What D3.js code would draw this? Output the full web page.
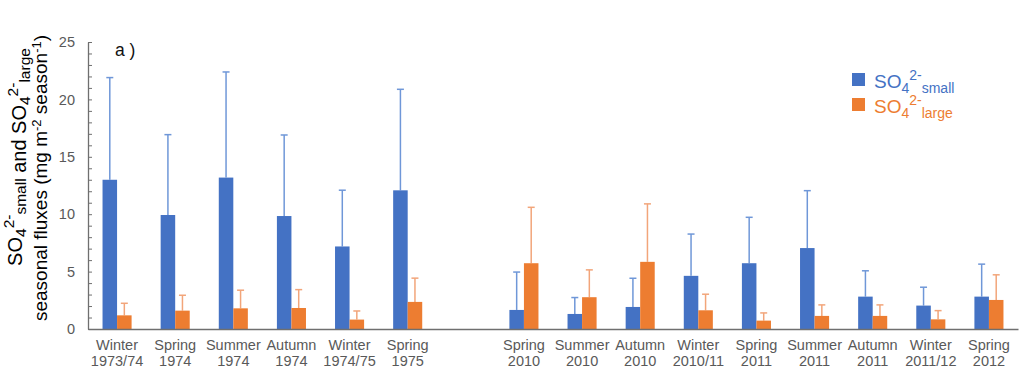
<!DOCTYPE html>
<html><head><meta charset="utf-8">
<script src="https://cdn.jsdelivr.net/npm/d3@7"></script>
<style>body{margin:0;background:#fff}svg{display:block}</style>
</head><body><svg id="c" width="1024" height="374"></svg>
<script>
// categories (two-line labels); "" is the blank gap slot
const seasons = ["Winter","Spring","Summer","Autumn","Winter","Spring","","Spring","Summer","Autumn","Winter","Spring","Summer","Autumn","Winter","Spring"];
const years   = ["1973/74","1974","1974","1974","1974/75","1975","","2010","2010","2010","2010/11","2011","2011","2011","2011/12","2012"];
const smallValues = [13.0, 9.93, 13.19, 9.84, 7.19, 12.08, null, 1.66, 1.31, 1.92, 4.63, 5.73, 7.05, 2.82, 2.04, 2.82];
const smallErr    = [8.9, 7.0, 9.2, 7.06, 4.9, 8.8, null, 3.3, 1.43, 2.5, 3.64, 4.0, 5.0, 2.25, 1.6, 2.83];
const largeValues = [1.19, 1.6, 1.8, 1.83, 0.82, 2.36, null, 5.73, 2.77, 5.85, 1.63, 0.73, 1.14, 1.14, 0.84, 2.53];
const largeErr    = [1.05, 1.34, 1.58, 1.6, 0.75, 2.07, null, 4.87, 2.38, 5.05, 1.4, 0.67, 0.96, 0.96, 0.76, 2.19];
const yTicks = [0, 5, 10, 15, 20, 25];
const seriesKeys = ["small", "large"];

const svg = d3.select("#c");
const FONT = "'Liberation Sans', Arial, sans-serif";
const colors = {small: "#4472c4", large: "#ed7d31"};
const errColors = {small: "#6f97d8", large: "#f2a57a"};

const idx = d3.range(seasons.length);
const x = d3.scaleBand().domain(idx).range([88, 1018]).paddingInner(0).paddingOuter(0);
const x1 = d3.scaleBand().domain(seriesKeys).range([0, x.bandwidth()]).paddingInner(0).paddingOuter(1);
const y = d3.scaleLinear().domain([0, 25]).range([329, 42]);

const data = idx.filter(i => smallValues[i] !== null).flatMap(i => [
  {i, key: "small", v: smallValues[i], e: smallErr[i]},
  {i, key: "large", v: largeValues[i], e: largeErr[i]}
]);

// y axis
const yAxis = d3.axisLeft(y).tickValues(d3.range(0, 26, 1)).tickSizeInner(-4).tickSizeOuter(0).tickPadding(13)
  .tickFormat(d => yTicks.includes(d) ? d : "");
const gy = svg.append("g").attr("transform", "translate(88,0)").call(yAxis);
gy.select(".domain").attr("stroke", "#6f6f6f").attr("stroke-width", 1.3);
gy.selectAll(".tick line").attr("stroke", "#6f6f6f").attr("stroke-width", 1);
gy.selectAll(".tick text").attr("fill", "#595959").style("font", "14.5px " + FONT);

// error bars
const eb = svg.append("g");
data.forEach(d => {
  const cx = x(d.i) + x1(d.key) + x1.bandwidth() / 2;
  eb.append("line").attr("x1", cx).attr("x2", cx).attr("y1", y(d.v)).attr("y2", y(d.v + d.e))
    .attr("stroke", errColors[d.key]).attr("stroke-width", 1.5);
  eb.append("line").attr("x1", cx - 3.5).attr("x2", cx + 3.5).attr("y1", y(d.v + d.e)).attr("y2", y(d.v + d.e))
    .attr("stroke", errColors[d.key]).attr("stroke-width", 1.5);
});

// bars
svg.append("g").selectAll("rect").data(data).join("rect")
  .attr("x", d => x(d.i) + x1(d.key))
  .attr("width", x1.bandwidth())
  .attr("y", d => y(d.v))
  .attr("height", d => y(0) - y(d.v))
  .attr("fill", d => colors[d.key]);

// x axis
const xAxis = d3.axisBottom(x).tickSize(0).tickFormat("");
const gx = svg.append("g").attr("transform", "translate(0,329)").call(xAxis);
gx.select(".domain").attr("stroke", "#6f6f6f").attr("stroke-width", 1.5);
gx.selectAll(".tick").each(function(i) {
  const t = d3.select(this).append("text").attr("fill", "#595959").attr("text-anchor", "middle")
    .style("font", "14.5px " + FONT);
  t.append("tspan").attr("x", 0).attr("y", 21).text(seasons[i]);
  t.append("tspan").attr("x", 0).attr("y", 37).text(years[i]);
});

// panel label
svg.append("text").attr("x", 115).attr("y", 56).style("font", "500 17.5px " + FONT).attr("fill", "#111").text("a )");

// helper for chemical formula text
function so4(sel, sub, size, subSize, down = 0.28, up = 0.72) {
  sel.append("tspan").style("font-size", size + "px").text("SO");
  sel.append("tspan").style("font-size", subSize + "px").attr("dy", size * down).text("4");
  sel.append("tspan").style("font-size", subSize + "px").attr("dy", -size * up).text("2-");
  sel.append("tspan").style("font-size", subSize + "px").attr("dy", size * up).text(sub);
  sel.append("tspan").style("font-size", size + "px").attr("dy", -size * down).text("");
}

// y title
const t1 = svg.append("text").attr("transform", "translate(22,157) rotate(-90)")
  .attr("text-anchor", "middle").style("font-family", FONT).attr("fill", "#000");
so4(t1, "small", 20, 15.5, 0.2, 0.62);
t1.append("tspan").style("font-size", "20px").text(" and ");
so4(t1, "large", 20, 15.5, 0.2, 0.62);

const t2 = svg.append("text").attr("transform", "translate(47,178) rotate(-90)")
  .attr("text-anchor", "middle").style("font-family", FONT).attr("fill", "#000").style("font-size", "19px");
t2.append("tspan").text("seasonal fluxes (mg m");
t2.append("tspan").style("font-size", "13px").attr("dy", -6).text("-2");
t2.append("tspan").attr("dy", 6).text(" season");
t2.append("tspan").style("font-size", "13px").attr("dy", -6).text("-1");
t2.append("tspan").attr("dy", 6).text(")");

// legend
const leg = svg.append("g");
seriesKeys.forEach((k, j) => {
  const yy = 73 + j * 25;
  leg.append("rect").attr("x", 852).attr("y", yy).attr("width", 13).attr("height", 13).attr("fill", colors[k]);
  const lt = leg.append("text").attr("x", 874).attr("y", yy + 15).style("font-family", FONT).attr("fill", colors[k]);
  so4(lt, k, 19, 14);
});
</script></body></html>
